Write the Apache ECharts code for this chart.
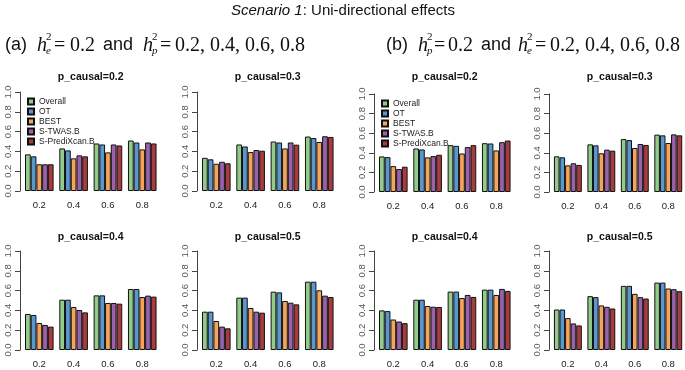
<!DOCTYPE html>
<html>
<head>
<meta charset="utf-8">
<script src="https://cdn.jsdelivr.net/npm/echarts@6/dist/echarts.min.js"></script>
<style>
  html, body { margin: 0; padding: 0; background: #fff; }
  #chart { width: 685px; height: 370px; }
</style>
</head>
<body>
<div id="chart"></div>
<script>
var methods = ['Overall', 'OT', 'BEST', 'S-TWAS.B', 'S-PrediXcan.B'];
var colors = ['#93cb8b', '#5b97cf', '#f8a458', '#9b62ac', '#a83b3f'];
var h2Ticks = ['0.2', '0.4', '0.6', '0.8'];
var panelTitles = ['p_causal=0.2', 'p_causal=0.3', 'p_causal=0.2', 'p_causal=0.3',
                   'p_causal=0.4', 'p_causal=0.5', 'p_causal=0.4', 'p_causal=0.5'];

// rows = methods, columns = h2 (0.2, 0.4, 0.6, 0.8)
var a_p02 = [
    [0.37, 0.43, 0.48, 0.51],
    [0.35, 0.41, 0.47, 0.49],
    [0.27, 0.33, 0.39, 0.42],
    [0.27, 0.36, 0.47, 0.49],
    [0.27, 0.35, 0.46, 0.48]
];
var a_p03 = [
    [0.335, 0.47, 0.50, 0.55],
    [0.32, 0.45, 0.49, 0.535],
    [0.275, 0.393, 0.43, 0.495],
    [0.295, 0.414, 0.49, 0.553],
    [0.28, 0.407, 0.468, 0.546]
];
var b_p02 = [
    [0.363, 0.444, 0.478, 0.498],
    [0.356, 0.434, 0.471, 0.495],
    [0.264, 0.353, 0.393, 0.424],
    [0.234, 0.366, 0.458, 0.508],
    [0.258, 0.38, 0.478, 0.525]
];
var b_p03 = [
    [0.364, 0.486, 0.54, 0.585],
    [0.354, 0.476, 0.53, 0.578],
    [0.272, 0.395, 0.449, 0.50],
    [0.293, 0.432, 0.49, 0.588],
    [0.276, 0.422, 0.48, 0.578]
];
var a_p04 = [
    [0.364, 0.508, 0.552, 0.616],
    [0.354, 0.508, 0.552, 0.616],
    [0.273, 0.434, 0.475, 0.535],
    [0.253, 0.404, 0.475, 0.549],
    [0.236, 0.38, 0.468, 0.539]
];
var a_p05 = [
    [0.387, 0.529, 0.589, 0.69],
    [0.387, 0.529, 0.582, 0.69],
    [0.293, 0.424, 0.495, 0.603],
    [0.236, 0.387, 0.478, 0.549],
    [0.219, 0.377, 0.461, 0.535]
];
var b_p04 = [
    [0.40, 0.508, 0.59, 0.61],
    [0.393, 0.508, 0.59, 0.61],
    [0.308, 0.444, 0.525, 0.556],
    [0.288, 0.437, 0.556, 0.617],
    [0.271, 0.434, 0.536, 0.597]
];
var b_p05 = [
    [0.409, 0.544, 0.648, 0.681],
    [0.409, 0.534, 0.648, 0.681],
    [0.322, 0.45, 0.567, 0.621],
    [0.268, 0.436, 0.534, 0.614],
    [0.248, 0.419, 0.52, 0.594]
];
var panelData = [a_p02, a_p03, b_p02, b_p03, a_p04, a_p05, b_p04, b_p05];

// layout (pixels)
var barStart = [25, 202, 379, 554];
var unit = 5.72;      // width of one bar
var axisGap = 5;      // space between y axis line and first bar
var rowTop = [[92, 92, 94, 94], [251, 251, 251, 251]];
var rowBottom = [[191, 191, 192, 192], [350, 350, 350, 350]];
var titleY = [77, 237];

var sans = "'Liberation Sans', Arial, sans-serif";
var serif = "'Liberation Serif', 'Times New Roman', serif";

var grids = [], xAxes = [], yAxes = [], series = [], graphics = [];

panelData.forEach(function (data, i) {
    var row = Math.floor(i / 4), col = i % 4;
    var left = barStart[col] - unit / 2;
    var top = rowTop[row][col];
    grids.push({left: left, top: top, width: unit * 24, height: rowBottom[row][col] - top});
    xAxes.push({
        type: 'category', gridIndex: i, data: h2Ticks,
        axisLine: {show: false}, axisTick: {show: false},
        axisLabel: {fontSize: 9.5, color: '#222', margin: 9, fontFamily: sans}
    });
    yAxes.push({
        type: 'value', gridIndex: i, min: 0, max: 1, interval: 0.2,
        offset: axisGap - unit / 2,
        splitLine: {show: false},
        axisLine: {show: true, lineStyle: {color: '#444', width: 1}},
        axisTick: {show: true, length: 5, lineStyle: {color: '#444'}},
        axisLabel: {rotate: 90, fontSize: 9.5, color: '#555', margin: 7, fontFamily: sans,
            formatter: function (v) { return v.toFixed(1); }}
    });
    data.forEach(function (vals, m) {
        series.push({
            type: 'bar', name: methods[m], xAxisIndex: i, yAxisIndex: i, data: vals,
            barGap: '0%', barCategoryGap: '16.667%',
            itemStyle: {color: colors[m], borderColor: '#111', borderWidth: 1},
            silent: true
        });
    });
    graphics.push({
        type: 'text', style: {
            x: barStart[col] + unit * 12 - 3, y: titleY[row], text: panelTitles[i],
            align: 'center', verticalAlign: 'middle',
            font: 'bold 10.5px ' + sans, fill: '#111'
        }
    });
});

function txt(x, y, s, font) {
    graphics.push({type: 'text', style: {x: x, y: y, text: s, align: 'left', verticalAlign: 'middle', font: font, fill: '#111'}});
}
function hsym(x, sub) {
    txt(x, 46, 'h', 'italic 20px ' + serif);
    txt(x + 9, 37, '2', '11px ' + serif);
    txt(x + 9, 51, sub, 'italic 11px ' + serif);
}

// main title
graphics.push({
    type: 'text', style: {
        x: 343, y: 11, text: '{it|Scenario 1}: Uni-directional effects',
        align: 'center', verticalAlign: 'middle', font: '15px ' + sans, fill: '#111',
        rich: {it: {fontStyle: 'italic', fontSize: 15, fontFamily: sans, fill: '#111'}}
    }
});

// (a) line
txt(5, 45, '(a)', '18px ' + sans);
hsym(37, 'e');
txt(54, 46, '=', '20px ' + serif);
txt(70, 46, '0.2', '20px ' + serif);
txt(103, 45, 'and', '18px ' + sans);
hsym(143, 'p');
txt(160, 46, '=', '20px ' + serif);
txt(175, 46, '0.2, 0.4, 0.6, 0.8', '20px ' + serif);

// (b) line
txt(386, 45, '(b)', '18px ' + sans);
hsym(418, 'p');
txt(434, 46, '=', '20px ' + serif);
txt(448, 46, '0.2', '20px ' + serif);
txt(481, 45, 'and', '18px ' + sans);
hsym(518, 'e');
txt(535, 46, '=', '20px ' + serif);
txt(550, 46, '0.2, 0.4, 0.6, 0.8', '20px ' + serif);

var legendBase = {
    orient: 'vertical', itemWidth: 6, itemHeight: 6, itemGap: 1, padding: 0,
    icon: 'rect', selectedMode: false, data: methods,
    textStyle: {fontSize: 8.5, color: '#222', fontFamily: sans}
};

var chart = echarts.init(document.getElementById('chart'));
chart.setOption({
    animation: false,
    color: colors,
    legend: [
        Object.assign({}, legendBase, {left: 27, top: 97}),
        Object.assign({}, legendBase, {left: 381, top: 99})
    ],
    grid: grids,
    xAxis: xAxes,
    yAxis: yAxes,
    series: series,
    graphic: graphics
});
</script>
</body>
</html>
